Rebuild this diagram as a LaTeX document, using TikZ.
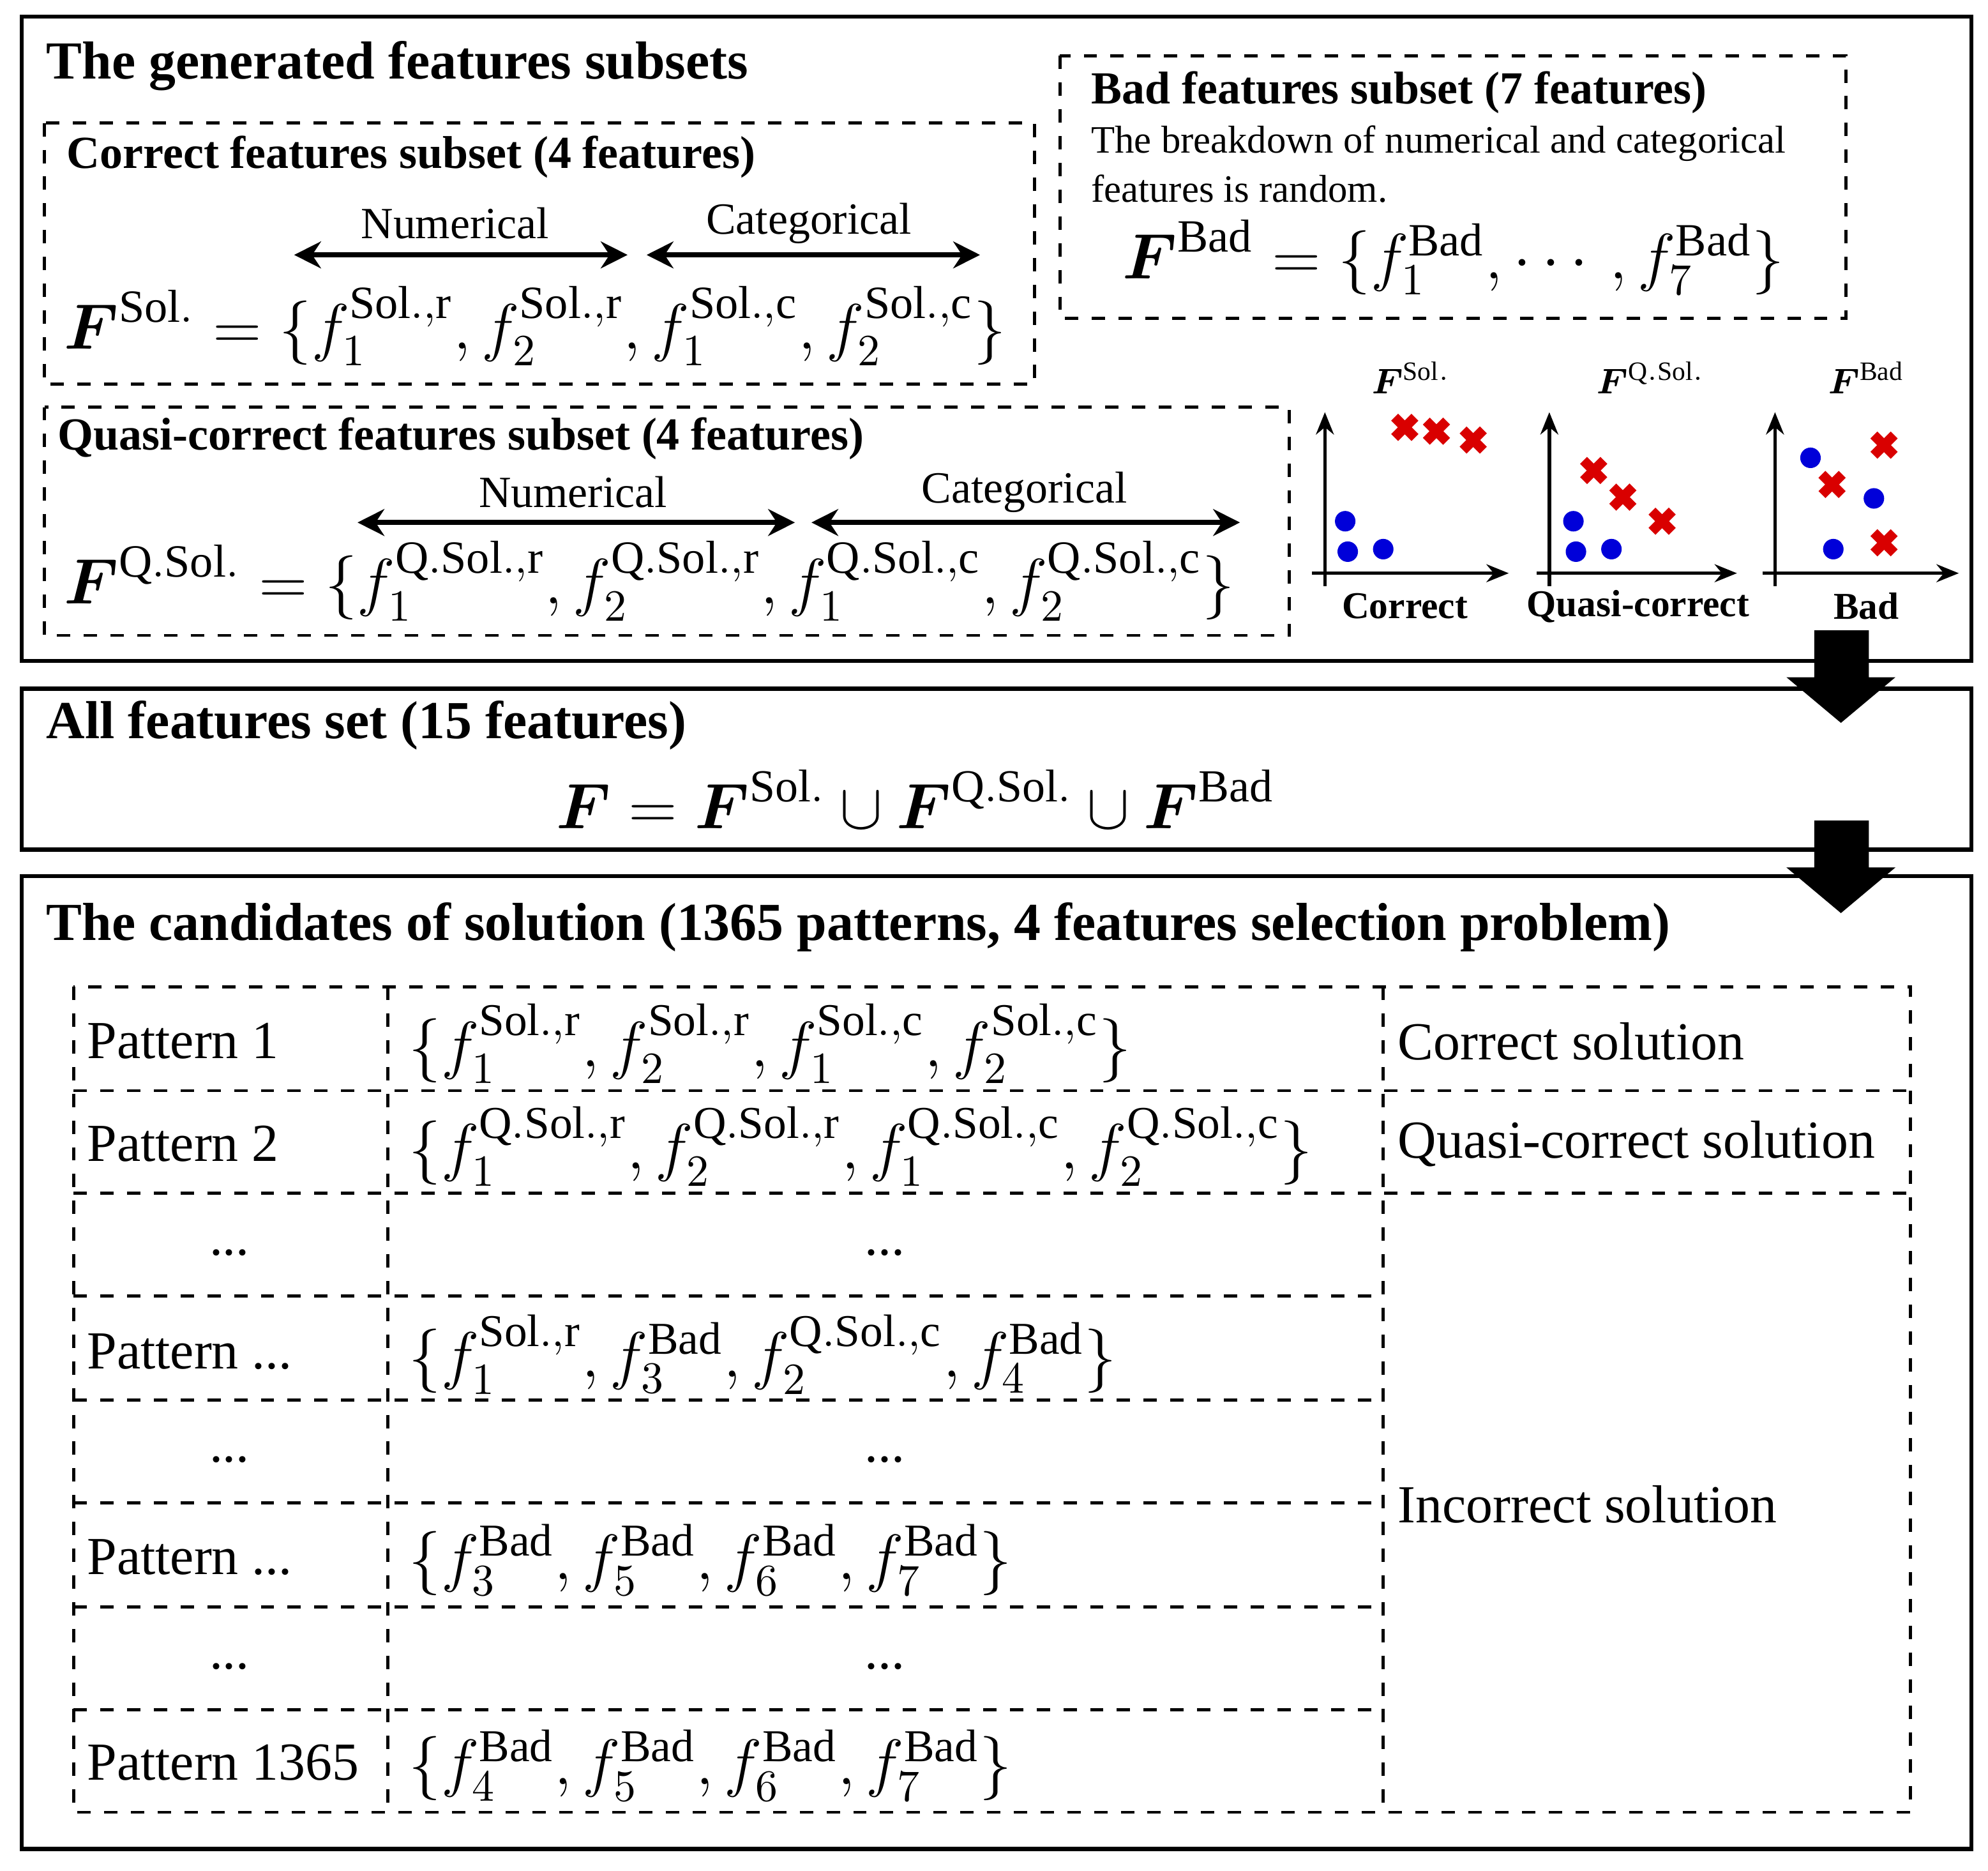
\documentclass[tikz,border=0pt]{standalone}
\usepackage{amsmath}
\usepackage{fontspec}
\setmainfont{Liberation Serif}
\usetikzlibrary{arrows.meta}
\begin{document}
\begin{tikzpicture}[x=0.01cm,y=-0.01cm,
  outer/.style={draw,line width=0.9pt},
  dbox/.style={draw,dashed,line width=0.7pt},
  ttl/.style={anchor=west,inner sep=0,font=\fontsize{12}{14}\selectfont\bfseries},
  sttl/.style={anchor=west,inner sep=0,font=\fontsize{10.3}{12}\selectfont\bfseries},
  txt/.style={anchor=west,inner sep=0,font=\fontsize{8.7}{10.5}\selectfont},
  lab/.style={inner sep=0,font=\fontsize{10}{12}\selectfont},
  frm/.style={anchor=west,inner sep=0,font=\fontsize{14.8}{16}\selectfont},
  harr/.style={{Stealth[length=6pt,width=6pt]}-{Stealth[length=6pt,width=6pt]},line width=1.2pt},
  ax/.style={-{Stealth[length=5pt,width=4pt]},line width=0.8pt},
  bdot/.style={circle,fill=blue!85!black,inner sep=0,minimum size=4.6pt},
  rxl/.style={draw=red!85!black,line width=2.2pt},
  plab/.style={inner sep=0,font=\fontsize{8.5}{10}\selectfont\bfseries},
  cell/.style={anchor=west,inner sep=0,font=\fontsize{12}{14}\selectfont},
  mcell/.style={anchor=west,inner sep=0,font=\fontsize{14.6}{16}\selectfont},
  big/.style={fill=black}]
\useasboundingbox (0,0) rectangle (1568,1475);
% outer boxes
\draw[outer] (17,13) rectangle (1555,521);
\draw[outer] (17,543) rectangle (1555,670);
\draw[outer] (17,691) rectangle (1555,1458);
% big arrows
\foreach \yy in {497,647}{
 \fill[big] (1431,\yy) -- (1474,\yy) -- (1474,\yy+37) -- (1495,\yy+37) -- (1452,\yy+73) -- (1409,\yy+37) -- (1431,\yy+37) -- cycle;}
% box1
\node[ttl] (t1) at (36,52) {The generated features subsets};
\draw[dbox] (35,97) rectangle (816,303);
\node[sttl] (tc) at (52,124) {Correct features subset (4 features)};
\coordinate (n1a) at (232,201); \coordinate (n1b) at (495,201);
\coordinate (c1a) at (510,201); \coordinate (c1b) at (773,201);
\draw[harr] (n1a) -- (n1b); \draw[harr] (c1a) -- (c1b);
\node[lab] (ln1) at (359,176) {Numerical};
\node[lab] (lc1) at (638,176) {Categorical};
\node[frm] (fs) at (50,257) {$\boldsymbol{F}^{\mathrm{Sol.}}=\{f_1^{\mathrm{Sol.,r}},f_2^{\mathrm{Sol.,r}},f_1^{\mathrm{Sol.,c}},f_2^{\mathrm{Sol.,c}}\}$};
\draw[dbox] (35,321) rectangle (1017,501);
\node[sttl] (tq) at (45,346) {Quasi-correct features subset (4 features)};
\coordinate (n2a) at (282,412); \coordinate (n2b) at (627,412);
\coordinate (c2a) at (640,412); \coordinate (c2b) at (978,412);
\draw[harr] (n2a) -- (n2b); \draw[harr] (c2a) -- (c2b);
\node[lab] (ln2) at (452,388) {Numerical};
\node[lab] (lc2) at (808,388) {Categorical};
\node[frm] (fq) at (50,458) {$\boldsymbol{F}^{\mathrm{Q.Sol.}}=\{f_1^{\mathrm{Q.Sol.,r}},f_2^{\mathrm{Q.Sol.,r}},f_1^{\mathrm{Q.Sol.,c}},f_2^{\mathrm{Q.Sol.,c}}\}$};
\draw[dbox] (836,44) rectangle (1456,251);
\node[sttl] (tb) at (860,73) {Bad features subset (7 features)};
\node[txt] (tb1) at (860,113) {The breakdown of numerical and categorical};
\node[txt] (tb2) at (860,149) {features is random.};
\node[frm] (fb) at (885,203) {$\boldsymbol{F}^{\mathrm{Bad}}=\{f_1^{\mathrm{Bad}},\cdots,f_7^{\mathrm{Bad}}\}$};
% scatter plots
\draw[ax] (1045,462) -- (1045,325); \draw[ax] (1035,452) -- (1190,452);
\foreach \p in {(1061,411),(1063,435),(1091,433)} \node[bdot] at \p {};
\foreach \x/\y in {1108/337,1133/340,1162/347} \draw[rxl] (\x-8,\y-8) -- (\x+8,\y+8) (\x-8,\y+8) -- (\x+8,\y-8);
\node[plab] (p1) at (1113,298) {$\boldsymbol{F}^{\mathrm{Sol.}}$};
\node[plab] (q1) at (1108,478) {Correct};
\draw[ax] (1222,462) -- (1222,325); \draw[ax] (1212,452) -- (1370,452);
\foreach \p in {(1241,411),(1243,435),(1271,433)} \node[bdot] at \p {};
\foreach \x/\y in {1257/371,1280/392,1311/411} \draw[rxl] (\x-8,\y-8) -- (\x+8,\y+8) (\x-8,\y+8) -- (\x+8,\y-8);
\node[plab] (p2) at (1302,298) {$\boldsymbol{F}^{\mathrm{Q.Sol.}}$};
\node[plab] (q2) at (1292,478) {Quasi-correct};
\draw[ax] (1400,462) -- (1400,325); \draw[ax] (1390,452) -- (1545,452);
\foreach \p in {(1428,361),(1478,393),(1446,433)} \node[bdot] at \p {};
\foreach \x/\y in {1486/351,1445/382,1486/428} \draw[rxl] (\x-8,\y-8) -- (\x+8,\y+8) (\x-8,\y+8) -- (\x+8,\y-8);
\node[plab] (p3) at (1472,298) {$\boldsymbol{F}^{\mathrm{Bad}}$};
\node[plab] (q3) at (1472,478) {Bad};
% box2
\node[ttl] (t2) at (36,572) {All features set (15 features)};
\node[inner sep=0,font=\fontsize{14.7}{16}\selectfont] (fall) at (722,630) {$\boldsymbol{F}=\boldsymbol{F}^{\mathrm{Sol.}}\cup\boldsymbol{F}^{\mathrm{Q.Sol.}}\cup\boldsymbol{F}^{\mathrm{Bad}}$};
% box3
\node[ttl] (t3) at (36,731) {The candidates of solution (1365 patterns, 4 features selection problem)};
\draw[dbox] (58,778) rectangle (1507,1429);
\foreach \yy in {860,941} \draw[dbox] (58,\yy) -- (1507,\yy);
\foreach \yy in {1022,1104,1185,1267,1348} \draw[dbox] (58,\yy) -- (1091,\yy);
\draw[dbox] (306,778) -- (306,1429);
\draw[dbox] (1091,778) -- (1091,1429);
\node[cell] (r1) at (68,821) {Pattern 1};
\node[cell] (r2) at (68,902) {Pattern 2};
\node[cell] (r4) at (68,1066) {Pattern ...};
\node[cell] (r6) at (68,1228) {Pattern ...};
\node[cell] (r8) at (68,1390) {Pattern 1365};
\foreach \yy/\nm in {988/a,1151/b,1314/c}{
  \node[inner sep=0,font=\fontsize{12}{14}\selectfont] (da\nm) at (181,\yy) {...};
  \node[inner sep=0,font=\fontsize{12}{14}\selectfont] (db\nm) at (698,\yy) {...};}
\node[mcell] (m1) at (322,823) {$\{f_1^{\mathrm{Sol.,r}},f_2^{\mathrm{Sol.,r}},f_1^{\mathrm{Sol.,c}},f_2^{\mathrm{Sol.,c}}\}$};
\node[mcell] (m2) at (322,904) {$\{f_1^{\mathrm{Q.Sol.,r}},f_2^{\mathrm{Q.Sol.,r}},f_1^{\mathrm{Q.Sol.,c}},f_2^{\mathrm{Q.Sol.,c}}\}$};
\node[mcell] (m4) at (322,1068) {$\{f_1^{\mathrm{Sol.,r}},f_3^{\mathrm{Bad}},f_2^{\mathrm{Q.Sol.,c}},f_4^{\mathrm{Bad}}\}$};
\node[mcell] (m6) at (322,1230) {$\{f_3^{\mathrm{Bad}},f_5^{\mathrm{Bad}},f_6^{\mathrm{Bad}},f_7^{\mathrm{Bad}}\}$};
\node[mcell] (m8) at (322,1392) {$\{f_4^{\mathrm{Bad}},f_5^{\mathrm{Bad}},f_6^{\mathrm{Bad}},f_7^{\mathrm{Bad}}\}$};
\node[cell] (s1) at (1102,821) {Correct solution};
\node[cell] (s2) at (1102,902) {Quasi-correct solution};
\node[cell] (s3) at (1102,1186) {Incorrect solution};
\end{tikzpicture}
\end{document}
